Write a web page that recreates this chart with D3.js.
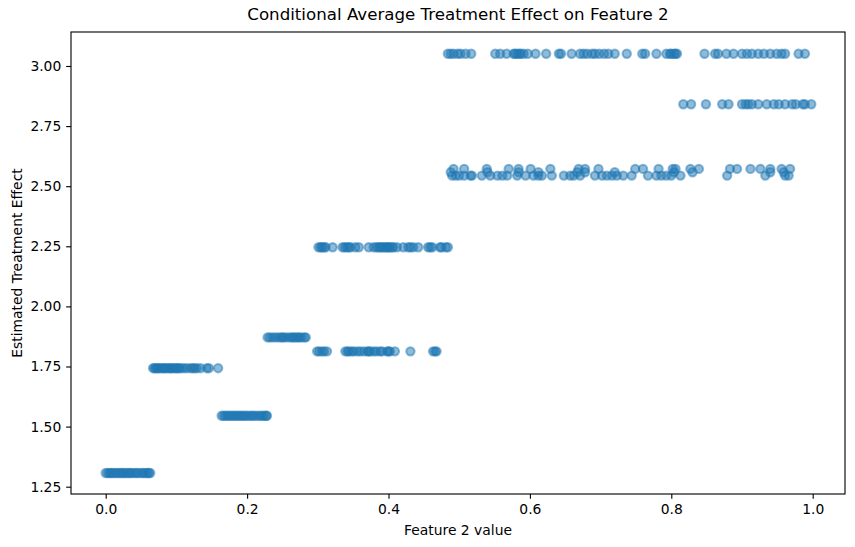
<!DOCTYPE html>
<html lang="en">
<head>
<meta charset="UTF-8">
<title>CATE on Feature 2</title>
<style>
  body { margin: 0; background: #fff; }
  text { font-family: "DejaVu Sans", sans-serif; fill: #000; }
</style>
</head>
<body>
<div id="graph"></div>
<script src="https://cdn.jsdelivr.net/npm/d3@7"></script>
<script>
// values: x positions grouped by effect level
var xTicks = [0, 0.2, 0.4, 0.6, 0.8, 1.0];
var yTicks = [1.25, 1.5, 1.75, 2.0, 2.25, 2.5, 2.75, 3.0];

var x1307 = [0.000, 0.003, 0.006, 0.008, 0.011, 0.014, 0.017, 0.020, 0.023, 0.025, 0.028, 0.031, 0.034, 0.036, 0.040, 0.043, 0.046, 0.050, 0.053, 0.056, 0.059, 0.061, 0.063];
var x1743 = [0.067, 0.069, 0.071, 0.073, 0.075, 0.077, 0.080, 0.082, 0.084, 0.086, 0.089, 0.091, 0.093, 0.095, 0.098, 0.100, 0.102, 0.104, 0.107, 0.111, 0.115, 0.120, 0.123, 0.126, 0.129, 0.134, 0.143, 0.146, 0.159];
var x1545 = [0.164, 0.167, 0.170, 0.173, 0.176, 0.179, 0.182, 0.185, 0.188, 0.191, 0.194, 0.197, 0.200, 0.204, 0.207, 0.210, 0.214, 0.218, 0.221, 0.224, 0.227, 0.228];
var x1871 = [0.229, 0.232, 0.236, 0.240, 0.244, 0.248, 0.250, 0.253, 0.257, 0.261, 0.264, 0.266, 0.269, 0.272, 0.274, 0.277, 0.281, 0.283];
var x1813 = [0.299, 0.302, 0.306, 0.309, 0.313, 0.339, 0.342, 0.344, 0.348, 0.351, 0.356, 0.360, 0.365, 0.370, 0.372, 0.374, 0.379, 0.383, 0.388, 0.391, 0.398, 0.400, 0.402, 0.409, 0.431, 0.463, 0.466, 0.468];
var x2246 = [0.301, 0.304, 0.306, 0.309, 0.311, 0.321, 0.335, 0.338, 0.341, 0.344, 0.346, 0.353, 0.358, 0.372, 0.379, 0.383, 0.386, 0.388, 0.391, 0.393, 0.396, 0.398, 0.400, 0.402, 0.405, 0.407, 0.412, 0.421, 0.428, 0.431, 0.435, 0.442, 0.456, 0.459, 0.462, 0.473, 0.475, 0.481, 0.484];
var x2544 = [0.490, 0.495, 0.500, 0.507, 0.516, 0.518, 0.532, 0.544, 0.554, 0.561, 0.568, 0.582, 0.594, 0.605, 0.612, 0.617, 0.631, 0.648, 0.657, 0.662, 0.671, 0.692, 0.702, 0.709, 0.716, 0.723, 0.732, 0.744, 0.767, 0.779, 0.786, 0.793, 0.800, 0.813, 0.879, 0.933, 0.961, 0.966];
var x2558 = [0.488, 0.540, 0.584, 0.612, 0.667, 0.678, 0.720, 0.804, 0.830, 0.940, 0.959];
var x2572 = [0.492, 0.507, 0.539, 0.570, 0.584, 0.601, 0.629, 0.669, 0.678, 0.697, 0.749, 0.760, 0.782, 0.802, 0.806, 0.827, 0.839, 0.883, 0.893, 0.912, 0.926, 0.940, 0.956, 0.968];
var x2841 = [0.817, 0.828, 0.849, 0.872, 0.881, 0.900, 0.905, 0.909, 0.914, 0.923, 0.935, 0.945, 0.952, 0.961, 0.971, 0.976, 0.986, 0.989, 0.998];
var x3051 = [0.484, 0.488, 0.492, 0.498, 0.502, 0.509, 0.517, 0.551, 0.558, 0.567, 0.577, 0.579, 0.582, 0.585, 0.587, 0.591, 0.597, 0.608, 0.623, 0.641, 0.644, 0.659, 0.671, 0.676, 0.681, 0.688, 0.692, 0.698, 0.705, 0.711, 0.720, 0.737, 0.759, 0.763, 0.779, 0.793, 0.798, 0.800, 0.804, 0.806, 0.808, 0.847, 0.862, 0.866, 0.878, 0.888, 0.900, 0.907, 0.914, 0.923, 0.931, 0.940, 0.949, 0.956, 0.961, 0.980, 0.989];

var effectLevels = [1.307, 1.743, 1.545, 1.871, 1.813, 2.246, 2.544, 2.558, 2.572, 2.841, 3.051];
var levelXs = [x1307, x1743, x1545, x1871, x1813, x2246, x2544, x2558, x2572, x2841, x3051];

var points = [];
effectLevels.forEach(function(lv, i) {
    levelXs[i].forEach(function(v) { points.push({ x: v, y: lv }); });
});

var width = 855, height = 547;
var plotLeft = 71, plotRight = 845, plotTop = 32, plotBottom = 494;
var pt = 100 / 72;

var svg = d3.select("#graph").append("svg")
    .attr("width", width).attr("height", height);

var xScale = d3.scaleLinear().domain([-0.0491, 1.0457]).range([plotLeft, plotRight]);
var yScale = d3.scaleLinear().domain([1.2196, 3.1414]).range([plotBottom, plotTop]);

// points
svg.append("g")
    .selectAll("circle")
    .data(points)
    .enter()
    .append("circle")
    .attr("cx", function(d) { return xScale(d.x); })
    .attr("cy", function(d) { return yScale(d.y); })
    .attr("r", 3 * pt)
    .attr("fill", "#1f77b4")
    .attr("fill-opacity", 0.5)
    .attr("stroke", "#1f77b4")
    .attr("stroke-opacity", 0.5)
    .attr("stroke-width", 1.5 * pt);

// axes
var xAxis = svg.append("g")
    .attr("transform", "translate(0," + plotBottom + ")")
    .call(d3.axisBottom(xScale).tickValues(xTicks).tickFormat(d3.format(".1f"))
        .tickSize(3.5 * pt).tickPadding(3.5 * pt));
var yAxis = svg.append("g")
    .attr("transform", "translate(" + plotLeft + ",0)")
    .call(d3.axisLeft(yScale).tickValues(yTicks).tickFormat(d3.format(".2f"))
        .tickSize(3.5 * pt).tickPadding(3.5 * pt));

[xAxis, yAxis].forEach(function(g) {
    g.select(".domain").remove();
    g.selectAll("line").attr("stroke", "#000").attr("stroke-width", 0.8 * pt);
    g.selectAll("text").style("font-family", "DejaVu Sans").style("font-size", (10 * pt) + "px").attr("fill", "#000");
});

// frame
svg.append("rect")
    .attr("x", plotLeft).attr("y", plotTop)
    .attr("width", plotRight - plotLeft).attr("height", plotBottom - plotTop)
    .attr("fill", "none").attr("stroke", "#000").attr("stroke-width", 0.8 * pt);

// labels
svg.append("text")
    .attr("x", (plotLeft + plotRight) / 2).attr("y", 20)
    .attr("text-anchor", "middle")
    .style("font-size", (12 * pt) + "px")
    .text("Conditional Average Treatment Effect on Feature 2");

svg.append("text")
    .attr("x", (plotLeft + plotRight) / 2).attr("y", 535)
    .attr("text-anchor", "middle")
    .style("font-size", (10 * pt) + "px")
    .text("Feature 2 value");

svg.append("text")
    .attr("transform", "translate(22," + ((plotTop + plotBottom) / 2) + ") rotate(-90)")
    .attr("text-anchor", "middle")
    .style("font-size", (10 * pt) + "px")
    .text("Estimated Treatment Effect");
</script>
</body>
</html>
